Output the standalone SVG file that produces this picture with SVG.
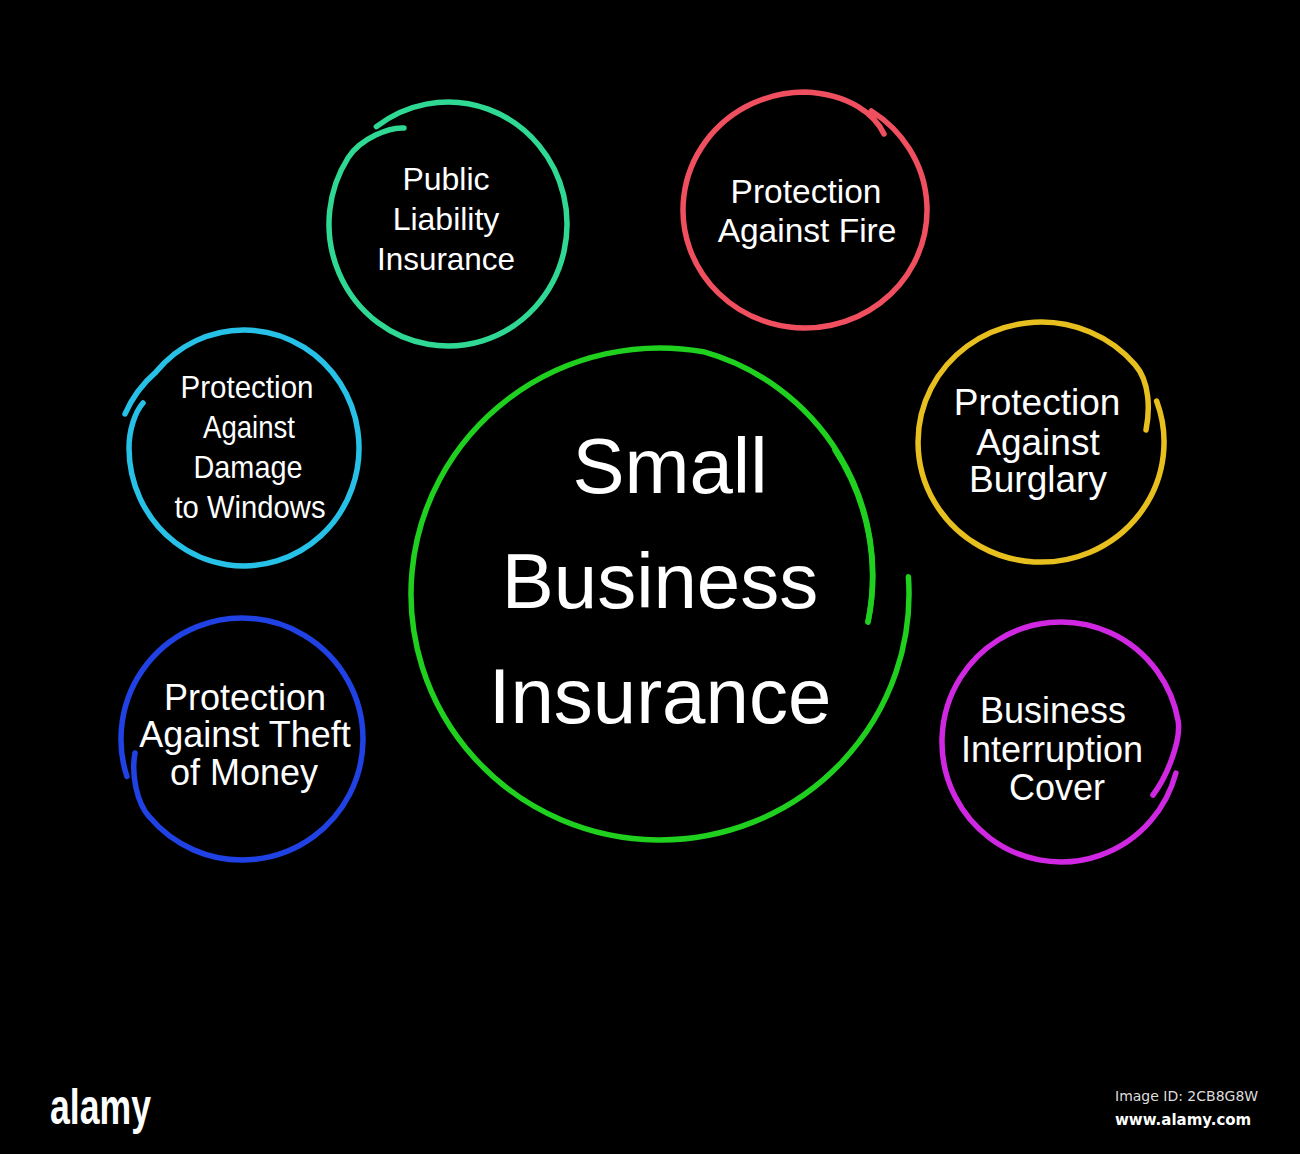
<svg xmlns="http://www.w3.org/2000/svg" width="1300" height="1154" viewBox="0 0 1300 1154">
<style>
.ring{fill:none;stroke-linecap:round;stroke-linejoin:round;stroke-width:5.5}
.lbl{fill:#fff;font-family:"Liberation Sans",Arial,sans-serif;text-anchor:middle}
.main{fill:#fff;font-family:"Liberation Sans",Arial,sans-serif;text-anchor:middle;font-size:78px}
</style>
<rect x="0" y="0" width="1300" height="1154" fill="#000"/>
<g id="connectors"></g>
<g id="node-main">
<path class="ring" stroke="#1fd01f" stroke-width="8" d="M 908.4,576.8 A 249 246 0 1 1 703.2,351.7 A 232 232 0 0 1 868,622"/>
<path class="ring" stroke="#1fd01f" stroke-width="11" d="M 835,450 A 232 232 0 0 1 868,622"/>
<text class="main" x="670" y="493">Small</text>
<text class="main" x="660" y="608">Business</text>
<text class="main" x="660" y="723">Insurance</text>
</g>
<g id="node-public-liability">
<path class="ring" stroke="#2fd993" d="M 376.4,126.6 A 119 122 0 1 1 348.2,157.6 C 361,138 390,127 404,128"/>
<text class="lbl" font-size="32" x="446" y="190">Public</text>
<text class="lbl" font-size="32" x="446" y="230">Liability</text>
<text class="lbl" font-size="32" x="446" y="270" textLength="138" lengthAdjust="spacingAndGlyphs">Insurance</text>
</g>
<g id="node-fire">
<path class="ring" stroke="#ef4f5e" d="M 871.4,111 A 122 118 0 1 1 805,92 C 850,94 875,115 884,134"/>
<text class="lbl" font-size="33.5" x="806" y="203">Protection</text>
<text class="lbl" font-size="33.5" x="807" y="242">Against Fire</text>
</g>
<g id="node-windows">
<path class="ring" stroke="#27c1e8" d="M 125,414 C 132,398 142,384 155.9,372.1 A 115 118 0 1 1 129,448 C 129,430 135,412 143,403"/>
<text class="lbl" font-size="32" x="247" y="398" textLength="133" lengthAdjust="spacingAndGlyphs">Protection</text>
<text class="lbl" font-size="32" x="249" y="438" textLength="92" lengthAdjust="spacingAndGlyphs">Against</text>
<text class="lbl" font-size="32" x="248" y="478" textLength="109" lengthAdjust="spacingAndGlyphs">Damage</text>
<text class="lbl" font-size="32" x="250" y="518" textLength="151" lengthAdjust="spacingAndGlyphs">to Windows</text>
</g>
<g id="node-burglary">
<path class="ring" stroke="#e7bf1f" d="M 1156.6,401 A 123 120 0 1 1 1135.2,364.9 C 1150,382 1150,410 1146,430"/>
<text class="lbl" font-size="37" x="1037" y="415">Protection</text>
<text class="lbl" font-size="37" x="1038" y="455">Against</text>
<text class="lbl" font-size="37" x="1038" y="492">Burglary</text>
</g>
<g id="node-theft">
<path class="ring" stroke="#2042e4" d="M 126.9,776.4 A 121 121 0 1 1 149.3,816.8 C 137,803 131,775 135,753"/>
<text class="lbl" font-size="36" x="245" y="710">Protection</text>
<text class="lbl" font-size="36" x="245" y="747">Against Theft</text>
<text class="lbl" font-size="36" x="244" y="785">of Money</text>
</g>
<g id="node-interruption">
<path class="ring" stroke="#d028e2" d="M 1175.9,773.1 A 119 120 0 1 1 1178.2,721.2 C 1181,740 1168,775 1153,795"/>
<text class="lbl" font-size="36" x="1053" y="723">Business</text>
<text class="lbl" font-size="36" x="1052" y="762">Interruption</text>
<text class="lbl" font-size="36" x="1057" y="800">Cover</text>
</g>
<g id="footer">
<text x="50" y="1124" fill="#fff" font-family="Liberation Sans,Arial,sans-serif" font-weight="bold" font-size="50" textLength="101" lengthAdjust="spacingAndGlyphs">alamy</text>
<text x="1115" y="1101" fill="#ddd" font-family="DejaVu Sans,sans-serif" font-size="14">Image ID: 2CB8G8W</text>
<text x="1115" y="1125" fill="#fff" font-family="DejaVu Sans,sans-serif" font-weight="bold" font-size="15">www.alamy.com</text>
</g>
</svg>
